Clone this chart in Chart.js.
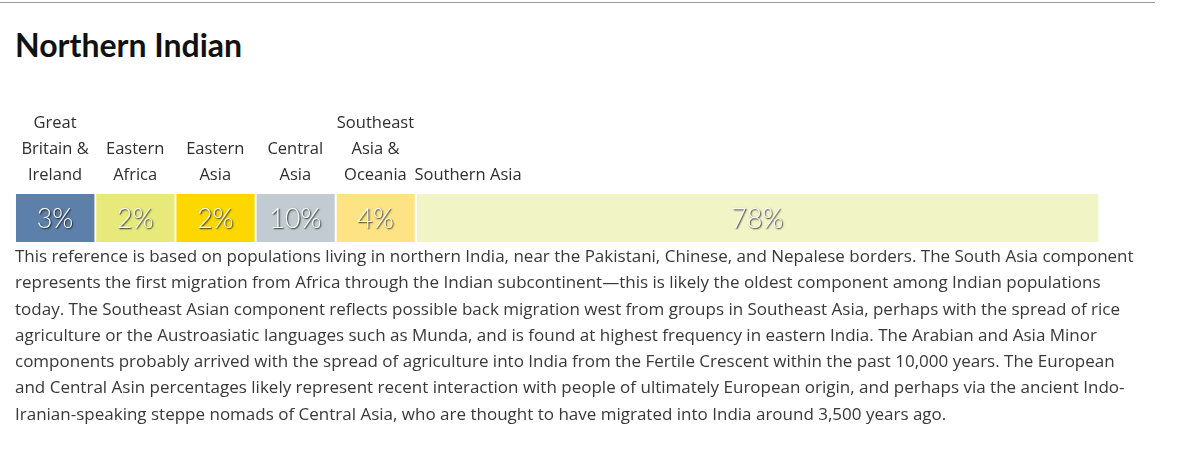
<!DOCTYPE html>
<html>
<head>
<meta charset="utf-8">
<script src="https://cdn.jsdelivr.net/npm/chart.js@4.4.1/dist/chart.umd.min.js"></script>
<style>
  body { margin: 0; background: #fff; width: 1181px; height: 451px; overflow: hidden; position: relative; }
  #rule { position: absolute; left: 0; top: 2px; width: 1155px; height: 0; border-top: 1px solid #9a9a9a; }
  #title { position: absolute; left: 15px; top: 29px; margin: 0; font: 700 32px/32px "Lato", sans-serif; color: #111; }
  #wrap { position: absolute; left: 0; top: 100px; width: 1181px; height: 150px; }
  #desc { position: absolute; left: 15px; top: 243px; margin: 0; font: 17px/26.3px "Open Sans", sans-serif; color: #383838; white-space: nowrap; }
</style>
</head>
<body>
<div id="rule"></div>
<h1 id="title">Northern Indian</h1>
<div id="wrap"><canvas id="canvas"></canvas></div>
<p id="desc">This reference is based on populations living in northern India, near the Pakistani, Chinese, and Nepalese borders. The South Asia component<br>represents the first migration from Africa through the Indian subcontinent—this is likely the oldest component among Indian populations<br>today. The Southeast Asian component reflects possible back migration west from groups in Southeast Asia, perhaps with the spread of rice<br>agriculture or the Austroasiatic languages such as Munda, and is found at highest frequency in eastern India. The Arabian and Asia Minor<br>components probably arrived with the spread of agriculture into India from the Fertile Crescent within the past 10,000 years. The European<br>and Central Asin percentages likely represent recent interaction with people of ultimately European origin, and perhaps via the ancient Indo-<br>Iranian-speaking steppe nomads of Central Asia, who are thought to have migrated into India around 3,500 years ago.</p>
<script>
// ancestry components, in the order they appear in the bar
var regions = [["Great", "Britain &", "Ireland"], ["Eastern", "Africa"], ["Eastern", "Asia"], ["Central", "Asia"], ["Southeast", "Asia &", "Oceania"], ["Southern Asia"]];
var percents = [3, 2, 2, 10, 4, 78];
var colors = ["#5d80aa", "#e7e97b", "#fdd700", "#c1cbd1", "#fde384", "#f1f4c4"];

// small components get a fixed slot so their labels fit (like the original page)
var SMALL_LIMIT = 15;
var SMALL_SLOT = 9.14;
var shown = percents.map(function (v) { return v < SMALL_LIMIT ? SMALL_SLOT : v; });

var labelPlugin = {
  id: "segmentLabels",
  afterDatasetsDraw: function (chart) {
    var ctx = chart.ctx;
    ctx.save();
    chart.data.datasets.forEach(function (ds, i) {
      var bar = chart.getDatasetMeta(i).data[0];
      var left = Math.min(bar.x, bar.base);
      var right = Math.max(bar.x, bar.base);
      var mid = (left + right) / 2 - 1;
      var top = bar.y - bar.height / 2;

      // region name above the segment, bottom aligned
      var lines = regions[i];
      ctx.shadowColor = "transparent";
      ctx.fillStyle = "#2e2e2e";
      ctx.font = "16.5px 'Open Sans', sans-serif";
      ctx.textBaseline = "middle";
      var wide = percents[i] >= SMALL_LIMIT;
      ctx.textAlign = wide ? "left" : "center";
      var tx = wide ? left - 2 : mid;
      for (var k = 0; k < lines.length; k++) {
        var ly = top - 19 - (lines.length - 1 - k) * 26;
        ctx.fillText(lines[k], tx, ly);
      }

      // percentage inside the segment
      ctx.font = "300 27px 'Lato', sans-serif";
      ctx.textAlign = "center";
      ctx.fillStyle = "#fff";
      ctx.shadowColor = "rgba(0,0,0,0.85)";
      ctx.shadowOffsetX = 1;
      ctx.shadowOffsetY = 1;
      ctx.shadowBlur = 1.5;
      ctx.fillText(percents[i] + "%", mid, bar.y + 1);
    });
    ctx.restore();
  }
};

var datasets = regions.map(function (r, i) {
  return {
    label: r.join(" "),
    data: [shown[i]],
    backgroundColor: colors[i],
    borderColor: "#ffffff",
    borderWidth: { left: 0, top: 0, bottom: 0, right: 2 },
    borderSkipped: false,
    barPercentage: 1,
    categoryPercentage: 1
  };
});

new Chart(document.getElementById("canvas"), {
  type: "bar",
  data: { labels: ["Northern Indian"], datasets: datasets },
  options: {
    indexAxis: "y",
    responsive: true,
    maintainAspectRatio: false,
    animation: false,
    layout: { padding: { left: 16, right: 81, top: 94, bottom: 8 } },
    scales: {
      x: { stacked: true, display: false, min: 0, max: shown.reduce(function (a, b) { return a + b; }, 0) },
      y: { stacked: true, display: false }
    },
    plugins: { legend: { display: false }, tooltip: { enabled: false } }
  },
  plugins: [labelPlugin]
});
</script>
</body>
</html>
